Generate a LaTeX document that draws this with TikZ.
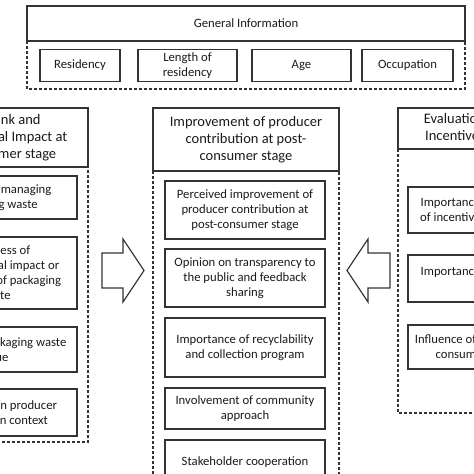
\documentclass[tikz,border=0pt]{standalone}
\usepackage{fontspec}
\setmainfont{Carlito}
\definecolor{linegray}{HTML}{333333}
\definecolor{textgray}{HTML}{1A1A1A}
\tikzset{
  box/.style={draw=linegray, line width=1.2pt, inner sep=0pt, align=center, text=textgray,
    font=\fontsize{12.7}{15}\selectfont},
  headbox/.style={box, font=\fontsize{14.5}{16.8}\selectfont},
  groupframe/.style={draw=linegray, line width=1.1pt, dash pattern=on 3pt off 2pt},
  blockarrow/.style={draw=linegray, line width=1.2pt, line join=miter, fill=white}
}
\begin{document}
\begin{tikzpicture}[x=1pt, y=-1pt]
\useasboundingbox (0,0) rectangle (474,474);
\clip (0,0) rectangle (474,474);

% general information
\draw[groupframe] (27,41) rectangle (465,89);
\node[box, minimum width=438, minimum height=35] (geninfo) at (246,23.5) {General Information};
\node[box, minimum width=80, minimum height=32] (residency) at (80,65.5) {Residency};
\node[box, minimum width=99, minimum height=32] (length) at (187.5,65.5) {Length of\\residency};
\node[box, minimum width=99, minimum height=32] (age) at (301.5,65.5) {Age};
\node[box, minimum width=91, minimum height=32] (occupation) at (407.5,65.5) {Occupation};

% left column
\draw[groupframe] (-98,167) rectangle (88,442);
\node[headbox, minimum width=186, minimum height=59] (rankhead) at (-5,137.5) {Issue, Rank and\\Environmental Impact at\\post-consumer stage};
\node[box, minimum width=163, minimum height=43] (rank1) at (-4.5,197.5) {Difficulty in managing\\packaging waste};
\node[box, minimum width=163, minimum height=72] (rank2) at (-4.5,273) {Awareness of\\environmental impact or\\harmfulness of packaging\\waste};
\node[box, minimum width=163, minimum height=45] (rank3) at (-4.5,349.5) {Ranking of packaging waste\\issue};
\node[box, minimum width=163, minimum height=47] (rank4) at (-4.5,412.5) {Knowledge on producer\\role in Asian context};

% middle column
\draw[groupframe] (153,171) rectangle (339,490);
\node[headbox, minimum width=186, minimum height=63] (imphead) at (246,139.5) {Improvement of producer\\contribution at post-\\consumer stage};
\node[box, minimum width=160, minimum height=58] (imp1) at (245,210) {Perceived improvement of\\producer contribution at\\post-consumer stage};
\node[box, minimum width=160, minimum height=58] (imp2) at (245,278) {Opinion on transparency to\\the public and feedback\\sharing};
\node[box, minimum width=160, minimum height=59] (imp3) at (245,347.5) {Importance of recyclability\\and collection program};
\node[box, minimum width=160, minimum height=41] (imp4) at (245,408.5) {Involvement of community\\approach};
\node[box, minimum width=160, minimum height=44] (imp5) at (245,462) {Stakeholder cooperation};

% right column
\draw[groupframe] (398,149) rectangle (584,413);
\node[headbox, minimum width=186, minimum height=41] (evalhead) at (491,128.5) {Evaluation of Recycling\\Incentive Programmes};
\node[box, minimum width=166, minimum height=46] (eval1) at (491,210) {Importance and preference\\of incentives for consumers};
\node[box, minimum width=166, minimum height=47] (eval2) at (491,278.5) {Importance of convenience\\factor};
\node[box, minimum width=166, minimum height=44] (eval3) at (491,347) {Influence of incentives on the\\consumer behaviours};

% block arrows
\draw[blockarrow] (102,253) -- (123,253) -- (123,239) -- (144,270.5) -- (123,302) -- (123,288) -- (102,288) -- cycle;
\draw[blockarrow] (390,253) -- (368,253) -- (368,239) -- (347,270.5) -- (368,302) -- (368,288) -- (390,288) -- cycle;
\end{tikzpicture}
\end{document}
